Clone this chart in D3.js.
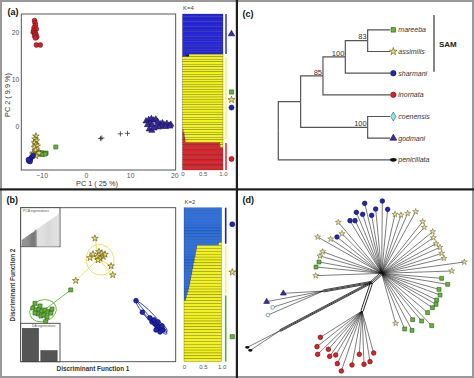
<!DOCTYPE html>
<html>
<head>
<meta charset="utf-8">
<script src="https://cdn.jsdelivr.net/npm/d3@7"></script>
<style>
body{margin:0;background:#fff;}
svg{display:block;font-family:"Liberation Sans",Arial,sans-serif;}
</style>
</head>
<body>
<div class="figure"></div>
<script>
//---- (a) PCA scores [PC1, PC2]
var pcaInornata = [[-11.6,22.4],[-11.5,21.9],[-11.4,21.4],[-11.7,20.9],[-11.2,20.6],[-11.8,20.3],[-11.9,19.9],[-11.5,19.8],[-11.3,19.5],[-11.6,19.1],[-11.1,18.9],[-11.4,18.7],[-11.2,17.2],[-10.3,17.2]];
var pcaGodmani = [[13.6,1.0],[14.2,1.3],[14.8,1.5],[15.3,1.2],[15.8,1.4],[16.2,0.9],[16.8,0.4],[17.3,0.6],[17.8,0.2],[18.3,0.5],[18.8,0.1],[19.2,0.3],[14.5,0.5],[15.0,0.2],[16.0,0.0],[17.0,-0.1],[18.0,-0.2],[19.0,-0.1],[14.3,-0.7],[14.9,-1.0],[15.4,-0.5],[13.9,0.2],[16.5,-0.3]];
var pcaOther = [[3.3,-2.7],[3.6,-2.6],[7.8,-1.7],[9.4,-1.6]];
var pcaMareeba = [[-6.8,-4.5],[-9.0,-5.8],[-9.5,-5.9],[-10.0,-5.7],[-10.4,-6.0],[-9.8,-6.1],[-10.7,-5.6],[-9.2,-6.0]];
var pcaAssimilis = [[-11.3,-2.2],[-11.5,-2.8],[-11.2,-3.2],[-11.6,-3.6],[-11.3,-4.0],[-11.0,-4.3],[-11.6,-4.6],[-11.4,-5.2],[-11.8,-5.8],[-11.0,-6.0],[-10.6,-5.8],[-11.3,-6.4],[-12.0,-6.0]];
var pcaSharmani = [[-12.9,-7.5],[-12.7,-7.3],[-12.5,-7.0],[-12.2,-6.6],[-11.9,-6.3],[-12.6,-7.6],[-13.0,-7.2]];
var pcaXTicks = [-10,0,10,20];
var pcaYTicks = [0,10,20];

//---- (a) structure K=4, one row per individual [blue, dark, red, yellow]
var k4Rows = [
  [1,0,0,0],[1,0,0,0],[1,0,0,0],[1,0,0,0],[1,0,0,0],[1,0,0,0],[1,0,0,0],[1,0,0,0],
  [1,0,0,0],[1,0,0,0],[1,0,0,0],[1,0,0,0],[1,0,0,0],[1,0,0,0],[1,0,0,0],[1,0,0,0],
  [0.08,0.08,0,0.84],
  [0,0,0,1],[0,0,0,1],[0,0,0,1],[0,0,0,1],[0,0,0,1],[0,0,0,1],[0,0,0,1],[0,0,0,1],
  [0,0,0,1],[0,0,0,1],[0,0,0,1],[0,0,0,1],[0,0,0,1],[0,0,0,1],[0,0,0,1],[0,0,0,1],
  [0,0,0,1],[0,0,0,1],[0,0,0,1],[0,0,0,1],[0,0,0,1],[0,0,0,1],[0,0,0,1],[0,0,0,1],
  [0,0,0,1],[0,0,0,1],[0,0,0,1],[0,0,0,1],[0,0,0,1],
  [0,0,0.02,0.98],[0,0,0.04,0.96],[0,0,0.05,0.95],[0,0,0.06,0.94],[0,0,0.07,0.93],
  [0,0,0.92,0.08],[0,0,0.93,0.07],
  [0,0,1,0],[0,0,1,0],[0,0,1,0],[0,0,1,0],[0,0,1,0],[0,0,1,0],[0,0,1,0],[0,0,1,0],[0,0,1,0]
];
var k4Spans = [[0,15.9],[17.1,50.1],[51.3,62]];
var k4Markers = [["godmani",7.95],["mareeba",31],["assimilis",34.1],["sharmani",37.2],["inornata",57.6]];

//---- (b) DAPC scores [LD1, LD2]
var daAssimilis = [[-0.21,3.01],[-0.53,1.75],[0.05,2.14],[0.23,2.04],[0.33,1.82],[0.12,1.71],[-0.06,1.82],[0.44,1.97],[-0.34,1.99],[-0.01,1.6],[0.83,1.21],[0.94,0.63],[-1.45,0.26]];
var daMareeba = [[-4.08,-1.21],[-1.77,-0.34],[-4.21,-1.51],[-4.01,-1.64],[-3.82,-1.58],[-3.63,-1.71],[-3.43,-1.64],[-3.24,-1.77],[-3.05,-1.84],[-3.88,-1.9],[-3.69,-2.03],[-3.5,-1.97],[-3.3,-2.1],[-4.08,-1.84],[-3.39,-2.4],[-2.98,-1.58],[-3.75,-1.38]];
var daSharmani = [[2.44,-1.04],[2.85,-1.79],[3.47,-2.42],[3.66,-2.55],[3.79,-2.68],[3.92,-2.75],[4.05,-2.88],[4.18,-2.94],[3.6,-2.29],[3.86,-2.42],[3.73,-2.94],[3.99,-3.07],[3.34,-2.16],[4.12,-2.68]];
// inertia ellipses [taxon, cx, cy, rx, ry, angle]
var daEllipses = [["assimilis",0.12,1.62,0.9,1.0,-10],["mareeba",-3.56,-1.69,0.88,0.7,-20],["sharmani",3.45,-2.16,1.42,0.23,47],["sharmani",3.99,-2.68,0.58,0.2,40]];
var pcaEigen = [7,8,8.5,9,10,10.5,11,12,12.5,13,14,14.5,15,16,17,17.5,18,19,19.5,20,21,21.5,22,23,23.5,24,25,25.5,26,27,27.5,28,29,29.5,30,31,31.5,32,33,34];
var pcaRetained = 16;
var daEigen = [30,10];

//---- (b) structure K=2, blue share per individual (rest is yellow)
var k2Blue = [1,1,1,1,1,1,1,1,1,1,1,1,0.92,
  0.34,0.33,0.31,0.3,0.28,0.27,0.25,0.24,0.22,0.21,0.19,0.18,0.16,0.15,0.13,0.11,0.09,0.07,0.05,
  0,0,0,0,0,0,0,0,0,0,0,0,0,0,0,0,0,0,0,0,0];
var k2Spans = [[0,12.4],[13,29.6],[30.2,53]];
var k2Markers = [["sharmani",5.7],["assimilis",22.2],["mareeba",44.4]];
var structTicks = [0,0.5,1];
var structTickLabels = ["0","0.5","1.0"];

//---- (c) tree with bootstrap support
var treeData = {children:[
  {children:[
    {support:"85", children:[
      {support:"100", children:[
        {support:"83", children:[{name:"mareeba"},{name:"assimilis"}]},
        {name:"sharmani"}]},
      {name:"inornata"}]},
    {support:"100", children:[{name:"coenensis"},{name:"godmani"}]}]},
  {name:"penicillata"}]};

//---- (d) network tips, in the panel's own picture units
var netBlue = [[374,55],[427,48],[407,72],[443,73],[349,82],[368,88],[395,91],[330,107],[345,107],[291,156]];
var netStar = [[295,112],[306,146],[233,156],[272,162],[248,200],[240,213],[227,272],[465,88],[483,90],[503,85],[527,80],[548,110],[553,127],[578,140],[580,158],[588,176],[600,187],[605,205],[612,220],[673,231],[635,258],[467,415]];
var netGreen = [[237,231],[228,246],[605,280],[623,298],[597,313],[600,330],[590,345],[588,358],[577,368],[563,383],[575,422],[545,408],[518,404],[516,436],[494,432]];
var netRed = [[241,457],[231,485],[265,493],[233,508],[269,514],[287,510],[292,536],[304,558],[336,540],[358,508],[372,538],[390,530],[401,504]];
var netTri = [[130,325],[80,350]];
var netCoen = [[98,367],[84,390]];
var netPen = [[22,487],[31,496]];
var netHubs = {center:[425,265], split:[395,292], red:[366,378], left:[250,318], pen:[120,437]};

// marker look for each taxon
var taxonStyle = {
  inornata:   {shape:d3.symbolCircle,   fill:"#de2129", stroke:"#5c0d10", size:18},
  sharmani:   {shape:d3.symbolCircle,   fill:"#1f25b5", stroke:"#0b0d45", size:18},
  assimilis:  {shape:d3.symbolStar,     fill:"#f2df5c", stroke:"#5a5020", size:14},
  mareeba:    {shape:d3.symbolSquare,   fill:"#62b53b", stroke:"#2d5a18", size:16},
  godmani:    {shape:d3.symbolTriangle, fill:"#3b2ca6", stroke:"#15104a", size:16},
  coenensis:  {shape:d3.symbolDiamond,  fill:"#8ee6e8", stroke:"#2a6370", size:18},
  penicillata:{shape:d3.symbolCircle,   fill:"#111",    stroke:"#000",    size:14},
  other:      {shape:d3.symbolPlus || d3.symbolCross, fill:"none", stroke:"#333", size:10}
};

var width = 474, height = 378;
var svg = d3.select("div.figure").append("svg")
    .attr("width", width)
    .attr("height", height);

svg.append("rect").attr("width", width).attr("height", height).attr("fill", "#fff");

drawPca();
drawStructure(k4Rows, ["#2424e4","#1a1450","#e1232b","#f2f21c"], [182.5,223], [14,170], "K=4", 178);
drawStructLegend(k4Spans, ["#3c3cd4","#f4f46a","#e0303a"], k4Markers, k4Rows.length, [14,170], 226, 231.5);
drawDapc();
var k2Rows = k2Blue.map(function(b){ return [b, 1 - b]; });
drawStructure(k2Rows, ["#2b70e4","#f2f21c"], [184,221.7], [207.7,361.7], "K=2", 370.5);
drawStructLegend(k2Spans, ["#1c2a9c","#f4f46a","#52b232"], k2Markers, k2Rows.length, [207.7,361.7], 225.7, 232.3);
drawTree();
drawNetwork();
drawFrame();

function marker(sel, name, scale){
  var st = taxonStyle[name];
  var k = scale || 1;
  sel.append("path")
    .attr("d", d3.symbol().type(st.shape).size(st.size * k))
    .attr("fill", st.fill)
    .attr("stroke", st.stroke)
    .attr("stroke-width", name == "other" ? 0.8 : 0.6);
}

function panelLabel(txt, x, y){
  svg.append("text").attr("x", x).attr("y", y)
    .attr("font-size", 9).attr("font-weight", "bold").attr("fill", "#111")
    .text(txt);
}

//PCA panel
function drawPca(){
  var x = d3.scaleLinear().domain([-14.6,20.3]).range([21.3,175.7]);
  var y = d3.scaleLinear().domain([-9.4,23.8]).range([170,14]);
  var g = svg.append("g");

  g.append("rect").attr("x",21.3).attr("y",14).attr("width",154.4).attr("height",156)
    .attr("fill","none").attr("stroke","#444").attr("stroke-width",0.9);

  var xa = g.append("g").attr("transform","translate(0,170)")
    .call(d3.axisBottom(x).tickValues(pcaXTicks).tickSize(0).tickPadding(3));
  var ya = g.append("g").attr("transform","translate(21.3,0)")
    .call(d3.axisLeft(y).tickValues(pcaYTicks).tickSize(0).tickPadding(2));
  [xa, ya].forEach(function(a){
    a.select(".domain").remove();
    a.selectAll("text").attr("font-size",6.8).attr("fill","#555").attr("font-family",null);
  });

  g.append("text").attr("x",97).attr("y",186).attr("text-anchor","middle")
    .attr("font-size",7.3).attr("fill","#333").text("PC 1 ( 25 %)");
  g.append("text").attr("transform","translate(10,95) rotate(-90)").attr("text-anchor","middle")
    .attr("font-size",7.3).attr("fill","#333").text("PC 2 ( 9.9 %)");

  var sets = [["inornata",pcaInornata],["godmani",pcaGodmani],["other",pcaOther],
              ["mareeba",pcaMareeba],["assimilis",pcaAssimilis],["sharmani",pcaSharmani]];
  sets.forEach(function(s){
    g.selectAll(null).data(s[1]).enter().append("g")
      .attr("transform", function(d){ return "translate(" + x(d[0]) + "," + y(d[1]) + ")"; })
      .each(function(){ marker(d3.select(this), s[0]); });
  });
  panelLabel("(a)", 7.5, 14.5);
}

//admixture bars
function drawStructure(rows, colors, xr, yr, title, tickY){
  var xs = d3.scaleLinear().domain([0,1]).range(xr);
  var ys = d3.scaleLinear().domain([0,rows.length]).range(yr);
  var stack = d3.stack().keys(d3.range(rows[0].length))(rows);
  var g = svg.append("g");
  stack.forEach(function(layer, k){
    g.selectAll(null).data(layer).enter().append("rect")
      .attr("x", function(d){ return xs(d[0]); })
      .attr("width", function(d){ return xs(d[1]) - xs(d[0]); })
      .attr("y", function(d, i){ return ys(i); })
      .attr("height", function(d, i){ return ys(i + 1) - ys(i); })
      .attr("fill", colors[k])
      .attr("stroke", function(d){ return d[1] > d[0] ? "#222" : "none"; })
      .attr("stroke-opacity", 0.75)
      .attr("stroke-width", 0.3);
  });

  var ax = g.append("g").attr("transform","translate(0," + (tickY - 7) + ")")
    .call(d3.axisBottom(xs).tickValues(structTicks).tickSize(0).tickPadding(1)
      .tickFormat(function(d, i){ return structTickLabels[i]; }));
  ax.select(".domain").remove();
  ax.selectAll("text").attr("font-size",6).attr("fill","#555").attr("font-family",null);

  g.append("text").attr("x", xr[0] + 0.5).attr("y", yr[0] - 4)
    .attr("font-size",6).attr("fill","#444").text(title);
}

function drawStructLegend(spans, colors, marks, n, yr, lineX, markX){
  var ys = d3.scaleLinear().domain([0,n]).range(yr);
  var g = svg.append("g");
  g.selectAll(null).data(spans).enter().append("line")
    .attr("x1", lineX).attr("x2", lineX)
    .attr("y1", function(d){ return ys(d[0]); })
    .attr("y2", function(d){ return ys(d[1]); })
    .attr("stroke", function(d, i){ return colors[i]; })
    .attr("stroke-width", 1.6);
  g.selectAll(null).data(marks).enter().append("g")
    .attr("transform", function(d){ return "translate(" + markX + "," + ys(d[1]) + ")"; })
    .each(function(d){ marker(d3.select(this), d[0], 1.1); });
}

//DAPC panel
function drawDapc(){
  var x = d3.scaleLinear().domain([-5,5]).range([20.7,175.7]);
  var y = d3.scaleLinear().domain([-5,5]).range([361.7,207.7]);
  var g = svg.append("g");
  g.append("rect").attr("x",20.7).attr("y",207.7).attr("width",155).attr("height",154)
    .attr("fill","none").attr("stroke","#444").attr("stroke-width",0.9);

  var lineCol = {assimilis:"#efdf5a", mareeba:"#6ab83c", sharmani:"#2536b8"};
  var sets = [["assimilis",daAssimilis],["mareeba",daMareeba],["sharmani",daSharmani]];

  g.selectAll(null).data(daEllipses).enter().append("ellipse")
    .attr("cx",0).attr("cy",0)
    .attr("rx", function(d){ return x(d[3]) - x(0); })
    .attr("ry", function(d){ return y(0) - y(d[4]); })
    .attr("transform", function(d){ return "translate(" + x(d[1]) + "," + y(d[2]) + ") rotate(" + d[5] + ")"; })
    .attr("fill","none").attr("stroke", function(d){ return lineCol[d[0]]; }).attr("stroke-width",0.9);

  sets.forEach(function(s){
    var cx = d3.mean(s[1], function(d){ return d[0]; }),
        cy = d3.mean(s[1], function(d){ return d[1]; });
    g.selectAll(null).data(s[1]).enter().append("line")
      .attr("x1", x(cx)).attr("y1", y(cy))
      .attr("x2", function(d){ return x(d[0]); })
      .attr("y2", function(d){ return y(d[1]); })
      .attr("stroke", lineCol[s[0]]).attr("stroke-width",0.9);
  });
  sets.forEach(function(s){
    g.selectAll(null).data(s[1]).enter().append("g")
      .attr("transform", function(d){ return "translate(" + x(d[0]) + "," + y(d[1]) + ")"; })
      .each(function(){ marker(d3.select(this), s[0]); });
  });

  // PCA eigenvalue inset
  var ix = d3.scaleBand().domain(d3.range(pcaEigen.length)).range([21.7,59.3]).padding(0.05);
  var iy = d3.scaleLinear().domain([0,40]).range([246.7,207.7]);
  g.append("rect").attr("x",20.7).attr("y",207.7).attr("width",39.3).attr("height",39)
    .attr("fill","#fff").attr("stroke","#444").attr("stroke-width",0.9);
  g.selectAll(null).data(pcaEigen).enter().append("rect")
    .attr("x", function(d, i){ return ix(i); })
    .attr("width", ix.bandwidth())
    .attr("y", function(d){ return iy(d); })
    .attr("height", function(d){ return iy(0) - iy(d); })
    .attr("fill", function(d, i){ return i < pcaRetained ? "#6a6a6a" : "#d4d4d4"; });
  g.append("text").attr("x",23).attr("y",212).attr("font-size",3.4).attr("fill","#555").text("PCA eigenvalues");

  // DA eigenvalue inset
  var dx = d3.scaleBand().domain(d3.range(daEigen.length)).range([21.7,57.7]).paddingInner(0.12).paddingOuter(0.03);
  var dy = d3.scaleLinear().domain([0,32]).range([361.7,326.1]);
  g.append("rect").attr("x",20.7).attr("y",323.3).attr("width",39.3).attr("height",38.4)
    .attr("fill","#fff").attr("stroke","#444").attr("stroke-width",0.9);
  g.selectAll(null).data(daEigen).enter().append("rect")
    .attr("x", function(d, i){ return dx(i); })
    .attr("width", dx.bandwidth())
    .attr("y", function(d){ return dy(d); })
    .attr("height", function(d){ return dy(0) - dy(d); })
    .attr("fill","#555").attr("stroke","#333").attr("stroke-width",0.5);
  g.append("text").attr("x",32).attr("y",327.3).attr("font-size",3.4).attr("fill","#555").text("DA eigenvalues");

  g.append("text").attr("x",93).attr("y",370.5).attr("text-anchor","middle")
    .attr("font-size",6.4).attr("font-weight","bold").attr("fill","#333").text("Discriminant Function 1");
  g.append("text").attr("transform","translate(15,285) rotate(-90)").attr("text-anchor","middle")
    .attr("font-size",6.4).attr("font-weight","bold").attr("fill","#333").text("Discriminant Function 2");
  panelLabel("(b)", 6.5, 203);
}

//cladogram panel
function drawTree(){
  var root = d3.hierarchy(treeData);
  d3.cluster().size([151.7, 111.7]).separation(function(){ return 1; })(root);
  var ox = 278.3, oy = 19;
  var g = svg.append("g").attr("transform","translate(" + ox + "," + oy + ")");

  g.selectAll(null).data(root.links()).enter().append("path")
    .attr("d", function(l){ return "M" + l.source.y + "," + l.source.x + "V" + l.target.x + "H" + l.target.y; })
    .attr("fill","none").attr("stroke","#555").attr("stroke-width",1.2);

  g.selectAll(null).data(root.descendants().filter(function(d){ return d.data.support; }))
    .enter().append("text")
    .attr("x", function(d){ return d.y - 1; })
    .attr("y", function(d){ return d.x - 1.2; })
    .attr("text-anchor","end").attr("font-size",7.5).attr("fill","#333")
    .text(function(d){ return d.data.support; });

  var tips = g.selectAll(null).data(root.leaves()).enter().append("g")
    .attr("transform", function(d){ return "translate(" + d.y + "," + d.x + ")"; });
  tips.append("g").attr("transform","translate(3.3,0)").each(function(d){
    if (d.data.name == "penicillata"){
      d3.select(this).append("ellipse").attr("rx",3.4).attr("ry",1.8).attr("fill","#111");
    } else {
      marker(d3.select(this), d.data.name, 1.3);
    }
  });
  tips.append("text").attr("x",8.3).attr("y",2.4)
    .attr("font-size",7).attr("font-style","italic").attr("fill","#333")
    .text(function(d){ return d.data.name; });

  // SAM bracket
  svg.append("line").attr("x1",434).attr("x2",434).attr("y1",15).attr("y2",71.7)
    .attr("stroke","#222").attr("stroke-width",1.1);
  svg.append("text").attr("x",439).attr("y",47).attr("font-size",8).attr("font-weight","bold")
    .attr("fill","#222").text("SAM");
  panelLabel("(c)", 242.5, 16.5);
}

//splits network panel
function drawNetwork(){
  var nx = d3.scaleLinear().domain([0,702]).range([240,474]);
  var ny = d3.scaleLinear().domain([0,579]).range([185,378]);
  var g = svg.append("g");

  function bundle(a, b, n, gap, w){
    var x1 = nx(a[0]), y1 = ny(a[1]), x2 = nx(b[0]), y2 = ny(b[1]);
    var len = Math.hypot(x2 - x1, y2 - y1), px = -(y2 - y1) / len, py = (x2 - x1) / len;
    d3.range(n).forEach(function(k){
      var o = (k - (n - 1) / 2) * gap;
      g.append("line").attr("x1", x1 + px * o).attr("y1", y1 + py * o)
        .attr("x2", x2 + px * o).attr("y2", y2 + py * o)
        .attr("stroke","#111").attr("stroke-width", w);
    });
  }
  bundle(netHubs.center, netHubs.split, 3, 1.3, 0.8);
  bundle(netHubs.split, netHubs.red, 2, 2.2, 0.9);
  bundle(netHubs.split, netHubs.left, 3, 1.0, 0.8);
  bundle(netHubs.split, netHubs.pen, 3, 0.9, 0.8);

  var sets = [["sharmani",netBlue,"center"],["assimilis",netStar,"center"],["mareeba",netGreen,"center"],
              ["inornata",netRed,"red"],["godmani",netTri,"left"],["coenensis",netCoen,"left"],["penicillata",netPen,"pen"]];
  sets.forEach(function(s){
    var h = netHubs[s[2]];
    g.selectAll(null).data(s[1]).enter().append("line")
      .attr("x1", nx(h[0])).attr("y1", ny(h[1]))
      .attr("x2", function(d){ return nx(d[0]); })
      .attr("y2", function(d){ return ny(d[1]); })
      .attr("stroke","#111").attr("stroke-width",0.55);
  });
  var netStyle = {assimilis:{fill:"#ece4a4", stroke:"#7a6c3a"}, coenensis:{fill:"#e8ffff", stroke:"#3d6f80"}};
  sets.forEach(function(s){
    g.selectAll(null).data(s[1]).enter().append("g")
      .attr("transform", function(d){ return "translate(" + nx(d[0]) + "," + ny(d[1]) + ")"; })
      .each(function(){
        var sel = d3.select(this);
        if (s[0] == "penicillata"){
          sel.append("ellipse").attr("rx",2.2).attr("ry",1.4).attr("fill","#111");
        } else if (netStyle[s[0]]){
          sel.append("path").attr("d", d3.symbol().type(s[0] == "assimilis" ? d3.symbolStar : d3.symbolCircle).size(11))
            .attr("fill", netStyle[s[0]].fill).attr("stroke", netStyle[s[0]].stroke).attr("stroke-width",0.6);
        } else {
          marker(sel, s[0], 0.95);
        }
      });
  });
  panelLabel("(d)", 242.5, 203);
}

//outer border and panel dividers
function drawFrame(){
  svg.append("rect").attr("x",1).attr("y",1).attr("width",width - 2).attr("height",height - 2)
    .attr("fill","none").attr("stroke","#999").attr("stroke-width",2);
  svg.append("rect").attr("x",0).attr("y",188.3).attr("width",width).attr("height",2.2).attr("fill","#1e1e1e");
  svg.append("rect").attr("x",235.8).attr("y",0).attr("width",2.2).attr("height",height).attr("fill","#1e1e1e");
}
</script>
</body>
</html>
